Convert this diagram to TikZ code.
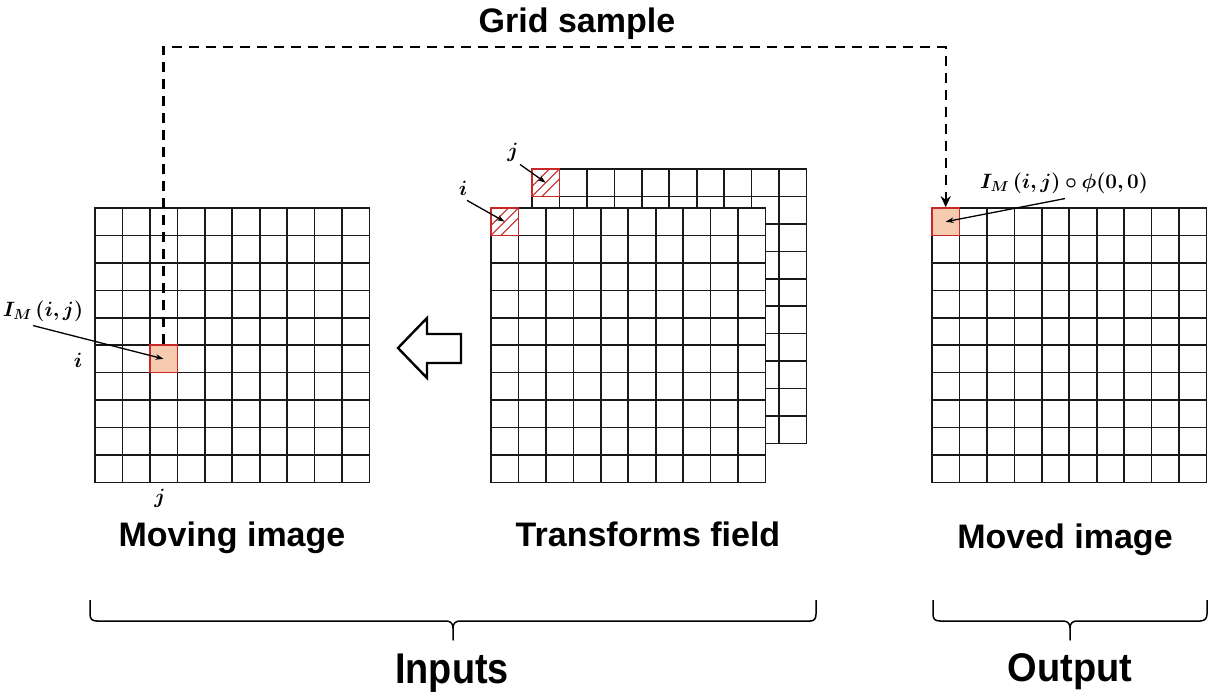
\documentclass[tikz,border=0pt]{standalone}
\usepackage{amsmath,bm}
\usepackage[no-math]{fontspec}
\newfontfamily\lsans{Liberation Sans}
\usetikzlibrary{arrows.meta,calc}
\definecolor{hifill}{RGB}{247,203,176}
\definecolor{hired}{RGB}{200,40,40}
\definecolor{gridc}{RGB}{25,25,25}
\newcommand{\cellgrid}[2]{%
  \fill[white] (#1,#2) rectangle ++(274.5,274.5);
  \foreach \k in {0,...,10}{%
    \draw[gridline] (#1+\k*27.45,#2) -- ++(0,274.5);
    \draw[gridline] (#1,#2+\k*27.45) -- ++(274.5,0);
  }}
\begin{document}
\begin{tikzpicture}[x=1pt,y=-1pt,
  gridline/.style={draw=gridc,line width=1.6pt,line cap=rect},
  cellbase/.style={minimum size=27.45pt,inner sep=0pt,draw=hired,line width=1.6pt},
  hicell/.style={cellbase,fill=hifill},
  hatchcell/.style={cellbase,fill=white,path picture={
    \foreach \d in {-10,0,10}{\draw[hired,line width=1.1pt]
      ([xshift=\d pt]path picture bounding box.south west) --
      ([xshift=\d pt]path picture bounding box.north east);}}},
  mlab/.style={inner sep=1pt,font=\fontsize{21}{24}\selectfont},
  title/.style={inner sep=0pt,anchor=base,font=\lsans\bfseries\fontsize{34}{40}\selectfont},
  lblarrow/.style={line width=1.3pt,-{Stealth[length=8pt,width=5.5pt]}},
  dashline/.style={line width=2.4pt,dash pattern=on 10pt off 7pt,-{Stealth[length=11pt,width=10pt]}},
  bracepath/.style={line width=1.5pt,line join=round}]
\useasboundingbox (0,0) rectangle (1224,700);

% Moving image
\cellgrid{95}{208}
\node[hicell] (mcell) at (163.6,358.9) {};

% Transforms field
\cellgrid{532}{169}
\node[hatchcell] (bcell) at (545.7,182.7) {};
\cellgrid{491}{208}
\node[hatchcell] (fcell) at (504.7,221.7) {};

% Moved image
\cellgrid{932}{208}
\node[hicell] (ocell) at (945.7,221.7) {};

% Labels
\node[mlab] (lim) at (43,311) {$\bm{I_M\,(i,j)}$};
\node[mlab] (li) at (78,360) {$\bm{i}$};
\node[mlab] (lj) at (160,498) {$\bm{j}$};
\node[mlab] (lti) at (463,188) {$\bm{i}$};
\node[mlab] (ltj) at (513,152) {$\bm{j}$};
\node[mlab] (lmo) at (1064,183) {$\bm{I_M\,(i,j)\circ\phi(0,0)}$};

\draw[lblarrow] ($(lim.south)+(-10,3)$) -- (mcell.center);
\draw[lblarrow] ($(lti.south)+(4,4)$) -- (fcell.center);
\draw[lblarrow] ($(ltj.south)+(7,2)$) -- (bcell.center);
\draw[lblarrow] ($(lmo.south)+(1,4)$) -- (ocell.center);

% Grid sample dashed connector
\node[title] (gs) at (577,33) {Grid sample};
\coordinate (gtop) at (560,47);
\draw[dashline] (mcell.north) -- (mcell.north |- gtop) -| (ocell.north);

% Block arrow
\draw[line width=2.4pt,line join=miter,fill=white]
  (398,348) -- (427,318) -- (427,334) -- (461,334) -- (461,363) -- (427,363) -- (427,378) -- cycle;

% Titles
\node[title] (tmov) at (232,546) {Moving image};
\node[title] (ttr) at (648,546) {Transforms field};
\node[title] (tmd) at (1065,548) {Moved image};

% Braces
\draw[bracepath] (90,600) -- (90,614) .. controls (90,619) and (92,621) .. (97,621) -- (446,621)
  .. controls (450,621) and (453,623) .. (453,628) -- (453,640) -- (453,628)
  .. controls (453,623) and (456,621) .. (460,621) -- (810,621)
  .. controls (814,621) and (816,619) .. (816,614) -- (816,600);
\draw[bracepath] (933,600) -- (933,614) .. controls (933,619) and (935,621) .. (940,621) -- (1063,621)
  .. controls (1067,621) and (1070,623) .. (1070,628) -- (1070,640) -- (1070,628)
  .. controls (1070,623) and (1073,621) .. (1077,621) -- (1200,621)
  .. controls (1204,621) and (1207,619) .. (1207,614) -- (1207,600);
\node[title,xscale=0.88,font=\lsans\bfseries\fontsize{43}{48}\selectfont] (tin) at (452,683) {Inputs};
\node[title,xscale=0.95,font=\lsans\bfseries\fontsize{40}{46}\selectfont] (tout) at (1070,681) {Output};
\end{tikzpicture}
\end{document}
